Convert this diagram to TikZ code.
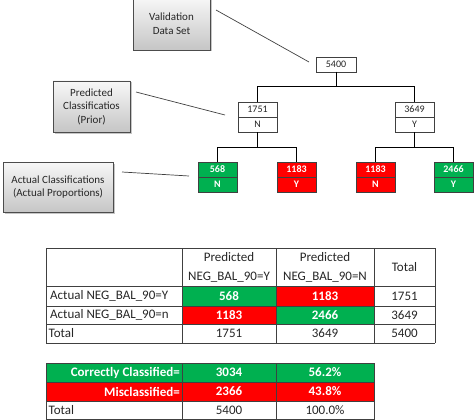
\documentclass[tikz,border=0pt]{standalone}
\usepackage{fontspec}
\setmainfont{Carlito}
\usetikzlibrary{positioning,shadows}
\definecolor{xlgreen}{RGB}{0,176,80}
\definecolor{xlred}{RGB}{255,0,0}
\definecolor{ink}{RGB}{38,38,38}
\tikzset{
  cnt/.style={draw=black!75, fill=white, minimum width=39pt, minimum height=15pt,
              inner sep=0pt, outer sep=0pt, text=ink, font=\fontsize{10}{12}\selectfont},
  leaf/.style={cnt, fill=#1, text=white, font=\fontsize{10}{12}\selectfont\bfseries},
  note/.style={draw=black!70, top color=gray!6, bottom color=gray!45, align=center,
               drop shadow={shadow xshift=1.5pt, shadow yshift=-1.5pt, opacity=.45},
               inner sep=0pt, text=ink, font=\fontsize{11}{13.5}\selectfont},
  tree/.style={draw=black, line width=0.9pt},
  ptr/.style={draw=black!75, line width=0.7pt},
  grid/.style={draw=black!75, line width=0.8pt},
  cell/.style={inner sep=0pt, align=center, text=ink, font=\fontsize{13}{19}\selectfont},
  hot/.style={cell, text=white, font=\fontsize{13}{19}\selectfont\bfseries}}

\begin{document}
\begin{tikzpicture}[x=1pt, y=-1pt]
  \useasboundingbox (0,0) rectangle (474,420);
  % tree of counts
  \node[cnt, minimum width=40pt] (root) at (336,64.5) {5400};
  \node[cnt] (pn) at (257.5,109.5) {1751};
  \node[cnt, below=0pt of pn] (pnb) {N};
  \node[cnt] (py) at (414.5,109.5) {3649};
  \node[cnt, below=0pt of py] (pyb) {Y};
  \node[leaf=xlgreen] (nn) at (217.5,169.5) {568};
  \node[leaf=xlgreen, below=0pt of nn] (nnb) {N};
  \node[leaf=xlred] (ny) at (296.5,169.5) {1183};
  \node[leaf=xlred, below=0pt of ny] (nyb) {Y};
  \node[leaf=xlred] (yn) at (375.5,169.5) {1183};
  \node[leaf=xlred, below=0pt of yn] (ynb) {N};
  \node[leaf=xlgreen] (yy) at (453.5,169.5) {2466};
  \node[leaf=xlgreen, below=0pt of yy] (yyb) {Y};
  \draw[tree] (root.south) -- ++(0,14) -| (pn.north);
  \draw[tree] (root.south) -- ++(0,14) -| (py.north);
  \draw[tree] (pnb.south) -- ++(0,15) -| (nn.north);
  \draw[tree] (pnb.south) -- ++(0,15) -| (ny.north);
  \draw[tree] (pyb.south) -- ++(0,15) -| (yn.north);
  \draw[tree] (pyb.south) -- ++(0,15) -| (yy.north);
  % callout boxes
  \node[note, minimum width=77pt, minimum height=53pt] (val) at (171.5,23.5) {Validation\\Data Set};
  \node[note, minimum width=77pt, minimum height=51pt] (pred) at (91.5,106.5) {Predicted\\Classificatios\\(Prior)};
  \node[note, minimum width=110pt, minimum height=50pt] (act) at (58,187) {Actual Classifications\\(Actual Proportions)};
  \coordinate (v1) at (216,10);  \coordinate (v2) at (309,62);
  \coordinate (q1) at (136,92);  \coordinate (q2) at (225,115);
  \coordinate (a1) at (122,172); \coordinate (a2) at (189,176);
  \draw[ptr] (v1) -- (v2);
  \draw[ptr] (q1) -- (q2);
  \draw[ptr] (a1) -- (a2);
  % confusion table
  \fill[xlgreen] (182,286) rectangle (276,306);
  \fill[xlred] (276,286) rectangle (374,306);
  \fill[xlred] (182,306) rectangle (276,324);
  \fill[xlgreen] (276,306) rectangle (374,324);
  \foreach \x in {46,182,276,374,435} \draw[grid] (\x,248) -- (\x,343);
  \foreach \y in {248,286,306,324,343} \draw[grid] (46,\y) -- (435,\y);
  \node[cell] (hy) at (229,267) {Predicted\\NEG\_BAL\_90=Y};
  \node[cell] (hn) at (325,267) {Predicted\\NEG\_BAL\_90=N};
  \node[cell] (ht) at (404.5,267) {Total};
  \node[cell, anchor=west] (ry) at (50,296) {Actual NEG\_BAL\_90=Y};
  \node[hot] (c11) at (229,296) {568};
  \node[hot] (c12) at (325,296) {1183};
  \node[cell] (c13) at (404.5,296) {1751};
  \node[cell, anchor=west] (rn) at (50,315) {Actual NEG\_BAL\_90=n};
  \node[hot] (c21) at (229,315) {1183};
  \node[hot] (c22) at (325,315) {2466};
  \node[cell] (c23) at (404.5,315) {3649};
  \node[cell, anchor=west] (rt) at (48.5,333.5) {Total};
  \node[cell] (c31) at (229,333.5) {1751};
  \node[cell] (c32) at (325,333.5) {3649};
  \node[cell] (c33) at (404.5,333.5) {5400};
  % accuracy table
  \fill[xlgreen] (46,363) rectangle (374,382);
  \fill[xlred] (46,382) rectangle (374,401);
  \foreach \x in {46,182,276,374} \draw[grid] (\x,363) -- (\x,419.5);
  \foreach \y in {363,382,401,419.5} \draw[grid] (46,\y) -- (374,\y);
  \node[hot, anchor=east] (ok) at (180,372.5) {Correctly Classified=};
  \node[hot] (ok1) at (229,372.5) {3034};
  \node[hot] (ok2) at (325,372.5) {56.2\%};
  \node[hot, anchor=east] (mis) at (180,391.5) {Misclassified=};
  \node[hot] (mis1) at (229,391.5) {2366};
  \node[hot] (mis2) at (325,391.5) {43.8\%};
  \node[cell, anchor=west] (tot) at (48.5,410.5) {Total};
  \node[cell] (tot1) at (229,410.5) {5400};
  \node[cell] (tot2) at (325,410.5) {100.0\%};
\end{tikzpicture}
\end{document}
